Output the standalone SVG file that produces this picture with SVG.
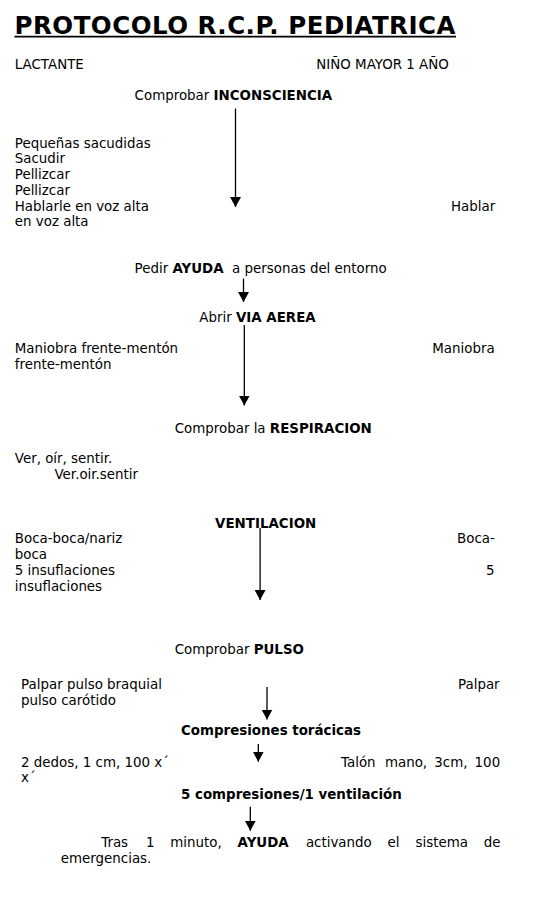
<svg xmlns="http://www.w3.org/2000/svg" width="551" height="912" viewBox="0 0 551 912">
<style>
text{font-family:"DejaVu Sans","Verdana",sans-serif;font-size:13.4px;fill:#000}
.b{font-weight:bold}
.title{font-size:24.5px;font-weight:bold}
.conn line{stroke:#000;stroke-width:1.3;fill:none}
</style>
<defs>
<marker id="ah" viewBox="0 0 10 11" refX="10" refY="5.5" markerWidth="10" markerHeight="11" markerUnits="userSpaceOnUse" orient="auto">
<path d="M0,0 L10,5.5 L0,11 z" fill="#000"/>
</marker>
</defs>
<rect width="551" height="912" fill="#fff"/>
<g id="title">
<text class="title" x="14.5" y="34" textLength="441" lengthAdjust="spacing">PROTOCOLO R.C.P. PEDIATRICA</text>
<line x1="14.5" y1="36.6" x2="456" y2="36.6" stroke="#000" stroke-width="1.6"/>
</g>
<g id="headers">
<text x="14.8" y="69">LACTANTE</text>
<text x="316.3" y="69">NIÑO MAYOR 1 AÑO</text>
</g>
<g id="n-inconsciencia">
<text x="134.6" y="100">Comprobar <tspan class="b">INCONSCIENCIA</tspan></text>
</g>
<g id="n-inconsciencia-notes">
<text x="14.8" y="147.7">Pequeñas sacudidas</text>
<text x="14.8" y="163.3">Sacudir</text>
<text x="14.8" y="179">Pellizcar</text>
<text x="14.8" y="194.7">Pellizcar</text>
<text x="14.8" y="210.7">Hablarle en voz alta</text>
<text x="451" y="210.7">Hablar</text>
<text x="14.8" y="226.3">en voz alta</text>
</g>
<g id="n-ayuda">
<text x="134.6" y="273.3" xml:space="preserve">Pedir <tspan class="b">AYUDA</tspan>  a personas del entorno</text>
</g>
<g id="n-via-aerea">
<text x="199.3" y="321.7">Abrir <tspan class="b">VIA AEREA</tspan></text>
</g>
<g id="n-via-aerea-notes">
<text x="14.8" y="353.3">Maniobra frente-mentón</text>
<text x="432.3" y="353.3">Maniobra</text>
<text x="14.8" y="368.6">frente-mentón</text>
</g>
<g id="n-respiracion">
<text x="174.7" y="433.3">Comprobar la <tspan class="b">RESPIRACION</tspan></text>
</g>
<g id="n-respiracion-notes">
<text x="14.8" y="462.7">Ver, oír, sentir.</text>
<text x="54.5" y="479.3">Ver.oir.sentir</text>
</g>
<g id="n-ventilacion">
<text class="b" x="215.1" y="527.7">VENTILACION</text>
</g>
<g id="n-ventilacion-notes">
<text x="14.8" y="543.3">Boca-boca/nariz</text>
<text x="457" y="543.3">Boca-</text>
<text x="14.8" y="559.3">boca</text>
<text x="14.8" y="575">5 insuflaciones</text>
<text x="486" y="575">5</text>
<text x="14.8" y="590.7">insuflaciones</text>
</g>
<g id="n-pulso">
<text x="174.7" y="654">Comprobar <tspan class="b">PULSO</tspan></text>
</g>
<g id="n-pulso-notes">
<text x="21.1" y="689.3">Palpar pulso braquial</text>
<text x="458" y="689.3">Palpar</text>
<text x="21.1" y="705">pulso carótido</text>
</g>
<g id="n-compresiones">
<text class="b" x="181" y="735">Compresiones torácicas</text>
</g>
<g id="n-compresiones-notes">
<text x="21.1" y="767.3">2 dedos, 1 cm, 100 x´</text>
<text y="767.3"><tspan x="341">Talón</tspan><tspan x="384.9">mano,</tspan><tspan x="434.3">3cm,</tspan><tspan x="474.6">100</tspan></text>
<text x="21.1" y="782">x´</text>
</g>
<g id="n-ratio">
<text class="b" x="181" y="799.3">5 compresiones/1 ventilación</text>
</g>
<g id="n-emergencias">
<text y="846.7"><tspan x="101.2">Tras</tspan><tspan x="146">1</tspan><tspan x="170.3">minuto,</tspan><tspan x="237.6" class="b">AYUDA</tspan><tspan x="305.9">activando</tspan><tspan x="387.6">el</tspan><tspan x="415.5">sistema</tspan><tspan x="483.7">de</tspan></text>
<text x="60.8" y="862.7">emergencias.</text>
</g>
<g id="connectors" class="conn">
<line x1="235.5" y1="108.5" x2="235.5" y2="207" marker-end="url(#ah)"/>
<line x1="243.5" y1="278.5" x2="243.5" y2="302" marker-end="url(#ah)"/>
<line x1="244.3" y1="325" x2="244.3" y2="405.5" marker-end="url(#ah)"/>
<line x1="260.1" y1="528" x2="260.1" y2="600" marker-end="url(#ah)"/>
<line x1="267" y1="687" x2="267" y2="719.5" marker-end="url(#ah)"/>
<line x1="258.3" y1="744" x2="258.3" y2="761.7" marker-end="url(#ah)"/>
<line x1="250.3" y1="806.7" x2="250.3" y2="830.7" marker-end="url(#ah)"/>
</g>
</svg>
